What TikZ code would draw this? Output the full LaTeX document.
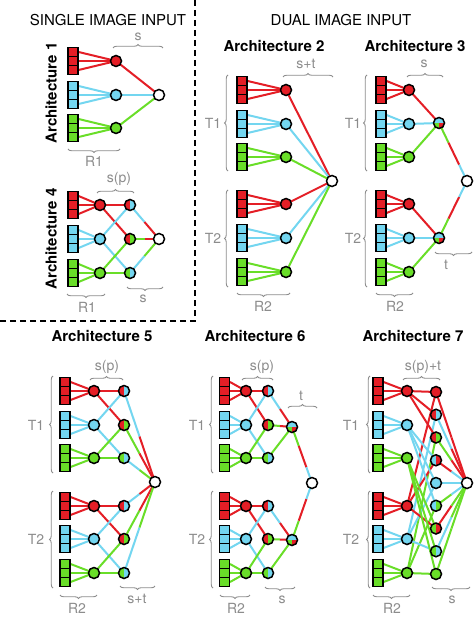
\documentclass[tikz,border=0pt]{standalone}
\usepackage{fontspec}
\setmainfont{TeX Gyre Heros}
\usetikzlibrary{calc,decorations.pathreplacing}
\definecolor{cR}{RGB}{228,30,38}
\definecolor{cB}{RGB}{115,214,240}
\definecolor{cG}{RGB}{105,222,40}
\definecolor{cT}{RGB}{140,140,140}
\pgfdeclarelayer{bg}
\pgfdeclarelayer{paper}
\pgfsetlayers{paper,bg,main}
\tikzset{
 sq/.style={draw,line width=1.1pt,minimum width=10pt,minimum height=9pt,inner sep=0pt},
 cir/.style={circle,draw,line width=1.5pt,minimum size=11pt,inner sep=0pt},
 lnk/.style={line width=2pt},
 brc/.style={decorate,decoration={brace,amplitude=3.5pt},draw=cT,line width=0.9pt},
 lbl/.style={text=cT,font=\fontsize{14}{16}\selectfont,inner sep=0pt},
 ttl/.style={font=\fontsize{15}{18}\selectfont\bfseries,inner sep=0pt},
 hdr/.style={font=\fontsize{15}{18}\selectfont,inner sep=0pt},
 sep/.style={line width=1.3pt,dash pattern=on 6pt off 4pt},
 half/.style 2 args={path picture={\fill[#1] (path picture bounding box.north west) rectangle (path picture bounding box.south); \fill[#2] (path picture bounding box.north) rectangle (path picture bounding box.south east);}},
 tri/.style={path picture={\fill[cB] (path picture bounding box.west) rectangle (path picture bounding box.north east); \fill[cG] (path picture bounding box.south west) rectangle (path picture bounding box.center); \fill[cR] (path picture bounding box.south) rectangle (path picture bounding box.east);}},
}
\newcommand\blk[4]{%
 \node[sq,fill=#4] (#1a) at (#2,#3-9) {};
 \node[sq,fill=#4] (#1b) at (#2,#3) {};
 \node[sq,fill=#4] (#1c) at (#2,#3+9) {};}
\newcommand\fan[3]{\begin{pgfonlayer}{bg}\foreach \s in {a,b,c}{\draw[lnk,#3] (#1\s.east) -- (#2.center);}\end{pgfonlayer}}
\newcommand\cn[3]{\begin{pgfonlayer}{bg}\draw[lnk,#3] (#1.center) -- (#2.center);\end{pgfonlayer}}
\newcommand\cnn[4]{\begin{pgfonlayer}{bg}\draw[lnk,#3] (#1.center) -- ($(#1.center)!0.5!(#2.center)$);\draw[lnk,#4] ($(#1.center)!0.5!(#2.center)$) -- (#2.center);\end{pgfonlayer}}
\newcommand\cnnn[5]{\begin{pgfonlayer}{bg}\draw[lnk,#3] (#1.center) -- ($(#1.center)!0.34!(#2.center)$);\draw[lnk,#4] ($(#1.center)!0.34!(#2.center)$) -- ($(#1.center)!0.72!(#2.center)$);\draw[lnk,#5] ($(#1.center)!0.72!(#2.center)$) -- (#2.center);\end{pgfonlayer}}
% blocks + first layer
\newcommand\grpL[6]{%
 \blk{#1R}{#2}{#4}{cR}\blk{#1B}{#2}{#5}{cB}\blk{#1G}{#2}{#6}{cG}
 \node[cir,fill=cR] (#1r) at (#3,#4) {};
 \node[cir,fill=cB] (#1b) at (#3,#5) {};
 \node[cir,fill=cG] (#1g) at (#3,#6) {};
 \fan{#1R}{#1r}{cR}\fan{#1B}{#1b}{cB}\fan{#1G}{#1g}{cG}}
% blocks + two layers (pairwise)
\newcommand\grpP[7]{%
 \grpL{#1}{#2}{#3}{#5}{#6}{#7}
 \node[cir,half={cR}{cB}] (#1t) at (#4,#5) {};
 \node[cir,half={cR}{cG}] (#1m) at (#4,#6) {};
 \node[cir,half={cG}{cB}] (#1u) at (#4,#7) {};
 \cn{#1r}{#1t}{cR}\cn{#1r}{#1m}{cR}\cn{#1b}{#1t}{cB}\cn{#1b}{#1u}{cB}\cn{#1g}{#1m}{cG}\cn{#1g}{#1u}{cG}}
\begin{document}
\begin{tikzpicture}[x=1pt,y=-1pt]
\begin{pgfonlayer}{paper}
\fill[white] (0,0) rectangle (474,617);
\end{pgfonlayer}
\useasboundingbox (0,0) rectangle (474,617);
\draw[sep] (195,0) -- (195,321) -- (0,321);
\node[hdr] (h1) at (108,20) {SINGLE IMAGE INPUT};
\node[hdr] (h2) at (341,20) {DUAL IMAGE INPUT};
% ---------- Architecture 1
\node[ttl,rotate=90] (t1) at (51,93) {Architecture 1};
\grpL{A}{73}{116}{61}{95}{128}
\node[cir,fill=white] (Ao) at (159,95) {};
\cn{Ar}{Ao}{cR}\cn{Ab}{Ao}{cB}\cn{Ag}{Ao}{cG}
\draw[brc] (113,48) -- (163,48); \node[lbl] (As) at (138,37) {s};
\draw[brc] (120,149) -- (68,149); \node[lbl] (AR) at (94,161) {R1};
% ---------- Architecture 4
\node[ttl,rotate=90] (t4) at (51,239) {Architecture 4};
\grpP{D}{73}{100}{130}{205}{239}{273}
\node[cir,fill=white] (Do) at (159,239) {};
\cnn{Dt}{Do}{cB}{cR}\cnn{Dm}{Do}{cG}{cR}\cnn{Du}{Do}{cB}{cG}
\draw[brc] (97,193) -- (134,193); \node[lbl] (Dsp) at (119,179) {s(p)};
\draw[brc] (105,294) -- (67,294); \node[lbl] (DR) at (87,307) {R1};
\draw[brc] (163,287) -- (127,287); \node[lbl] (Ds) at (143,299) {s};
% ---------- Architecture 2
\node[ttl] (t2) at (274,46) {Architecture 2};
\grpL{E}{242}{286}{90}{124}{157}
\grpL{F}{242}{286}{204}{238}{272}
\node[cir,fill=white] (Eo) at (332,181) {};
\cn{Er}{Eo}{cR}\cn{Eb}{Eo}{cB}\cn{Eg}{Eo}{cG}
\cn{Fr}{Eo}{cR}\cn{Fb}{Eo}{cB}\cn{Fg}{Eo}{cG}
\draw[brc] (283,77) -- (333,77); \node[lbl] (Est) at (306,64) {s+t};
\draw[brc] (228,171) -- (228,75); \node[lbl] (ET1) at (213,123) {T1};
\draw[brc] (228,287) -- (228,190); \node[lbl] (ET2) at (213,238) {T2};
\draw[brc] (290,293) -- (237,293); \node[lbl] (ER) at (263,306) {R2};
% ---------- Architecture 3
\node[ttl] (t3) at (415,46) {Architecture 3};
\grpL{I}{381}{409}{90}{124}{157}
\grpL{J}{381}{409}{204}{238}{272}
\node[cir,tri] (Ia) at (439,123) {};
\node[cir,tri] (Ja) at (439,238) {};
\node[cir,fill=white] (Io) at (467,181) {};
\cn{Ir}{Ia}{cR}\cn{Ib}{Ia}{cB}\cn{Ig}{Ia}{cG}
\cn{Jr}{Ja}{cR}\cn{Jb}{Ja}{cB}\cn{Jg}{Ja}{cG}
\cnnn{Ia}{Io}{cG}{cR}{cB}\cnnn{Ja}{Io}{cG}{cR}{cB}
\draw[brc] (407,77) -- (443,77); \node[lbl] (Is) at (424,64) {s};
\draw[brc] (472,252) -- (435,252); \node[lbl] (It) at (446,265) {t};
\draw[brc] (367,171) -- (367,75); \node[lbl] (IT1) at (353,123) {T1};
\draw[brc] (367,287) -- (367,190); \node[lbl] (IT2) at (353,238) {T2};
\draw[brc] (413,293) -- (376,293); \node[lbl] (IR) at (395,306) {R2};
% ---------- Architecture 5
\node[ttl] (t5) at (102,336) {Architecture 5};
\grpP{K}{65}{94}{124}{391}{425}{458}
\grpP{L}{65}{94}{124}{506}{539}{573}
\node[cir,fill=white] (Ko) at (155,482) {};
\cnn{Kt}{Ko}{cB}{cR}\cnn{Km}{Ko}{cG}{cR}\cnn{Ku}{Ko}{cB}{cG}
\cnn{Lt}{Ko}{cB}{cR}\cnn{Lm}{Ko}{cG}{cR}\cnn{Lu}{Ko}{cB}{cG}
\draw[brc] (90,380) -- (123,380); \node[lbl] (Ksp) at (107,367) {s(p)};
\draw[brc] (53,473) -- (53,376); \node[lbl] (KT1) at (36,425) {T1};
\draw[brc] (53,588) -- (53,491); \node[lbl] (KT2) at (36,539) {T2};
\draw[brc] (97,595) -- (60,595); \node[lbl] (KR) at (77,608) {R2};
\draw[brc] (155,586) -- (120,586); \node[lbl] (Kst) at (137,599) {s+t};
% ---------- Architecture 6
\node[ttl] (t6) at (255,336) {Architecture 6};
\grpP{M}{224.5}{246}{268}{391}{425}{458}
\grpP{N}{224.5}{246}{268}{506}{539}{573}
\node[cir,tri] (Mx) at (292,427) {};
\node[cir,tri] (Nx) at (292,540) {};
\node[cir,fill=white] (Mo) at (312,483) {};
\cnn{Mt}{Mx}{cB}{cR}\cnn{Mm}{Mx}{cG}{cR}\cn{Mu}{Mx}{cG}
\cnn{Nt}{Nx}{cB}{cR}\cnn{Nm}{Nx}{cG}{cR}\cn{Nu}{Nx}{cG}
\cnnn{Mx}{Mo}{cG}{cR}{cB}\cnnn{Nx}{Mo}{cG}{cR}{cB}
\draw[brc] (242,380) -- (273,380); \node[lbl] (Msp) at (262,367) {s(p)};
\draw[brc] (288,408) -- (317,408); \node[lbl] (Mt1) at (301,396) {t};
\draw[brc] (213,473) -- (213,376); \node[lbl] (MT1) at (197,425) {T1};
\draw[brc] (213,588) -- (213,491); \node[lbl] (MT2) at (197,539) {T2};
\draw[brc] (250,595) -- (220,595); \node[lbl] (MR) at (236,608) {R2};
\draw[brc] (295,587) -- (265,587); \node[lbl] (Ms) at (282,600) {s};
% ---------- Architecture 7
\node[ttl] (t7) at (413,336) {Architecture 7};
\grpL{S}{378}{407}{391}{425}{458}
\grpL{U}{378}{407}{506}{539}{573}
\node[cir,fill=white] (Wo) at (467,483) {};
\foreach \i/\ci/\ni in {0/cR/r,1/cB/b,2/cG/g}{
 \foreach \j/\cj/\nj in {0/cR/r,1/cB/b,2/cG/g}{
  \pgfmathtruncatemacro\k{3*\i+\j}
  \node[cir,half={\ci}{\cj}] (W\k) at (436,{392+\k*22.75}) {};
  \cn{S\ni}{W\k}{\ci}
  \cn{U\nj}{W\k}{\cj}
  \cnn{W\k}{Wo}{\cj}{\ci}
 }}
\draw[brc] (403,380) -- (440,380); \node[lbl] (Wspt) at (423,367) {s(p)+t};
\draw[brc] (370,473) -- (370,376); \node[lbl] (WT1) at (351,425) {T1};
\draw[brc] (370,588) -- (370,491); \node[lbl] (WT2) at (351,539) {T2};
\draw[brc] (410,595) -- (373,595); \node[lbl] (WR) at (392,608) {R2};
\draw[brc] (470,587) -- (432,587); \node[lbl] (Ws) at (452,600) {s};
\end{tikzpicture}
\end{document}
